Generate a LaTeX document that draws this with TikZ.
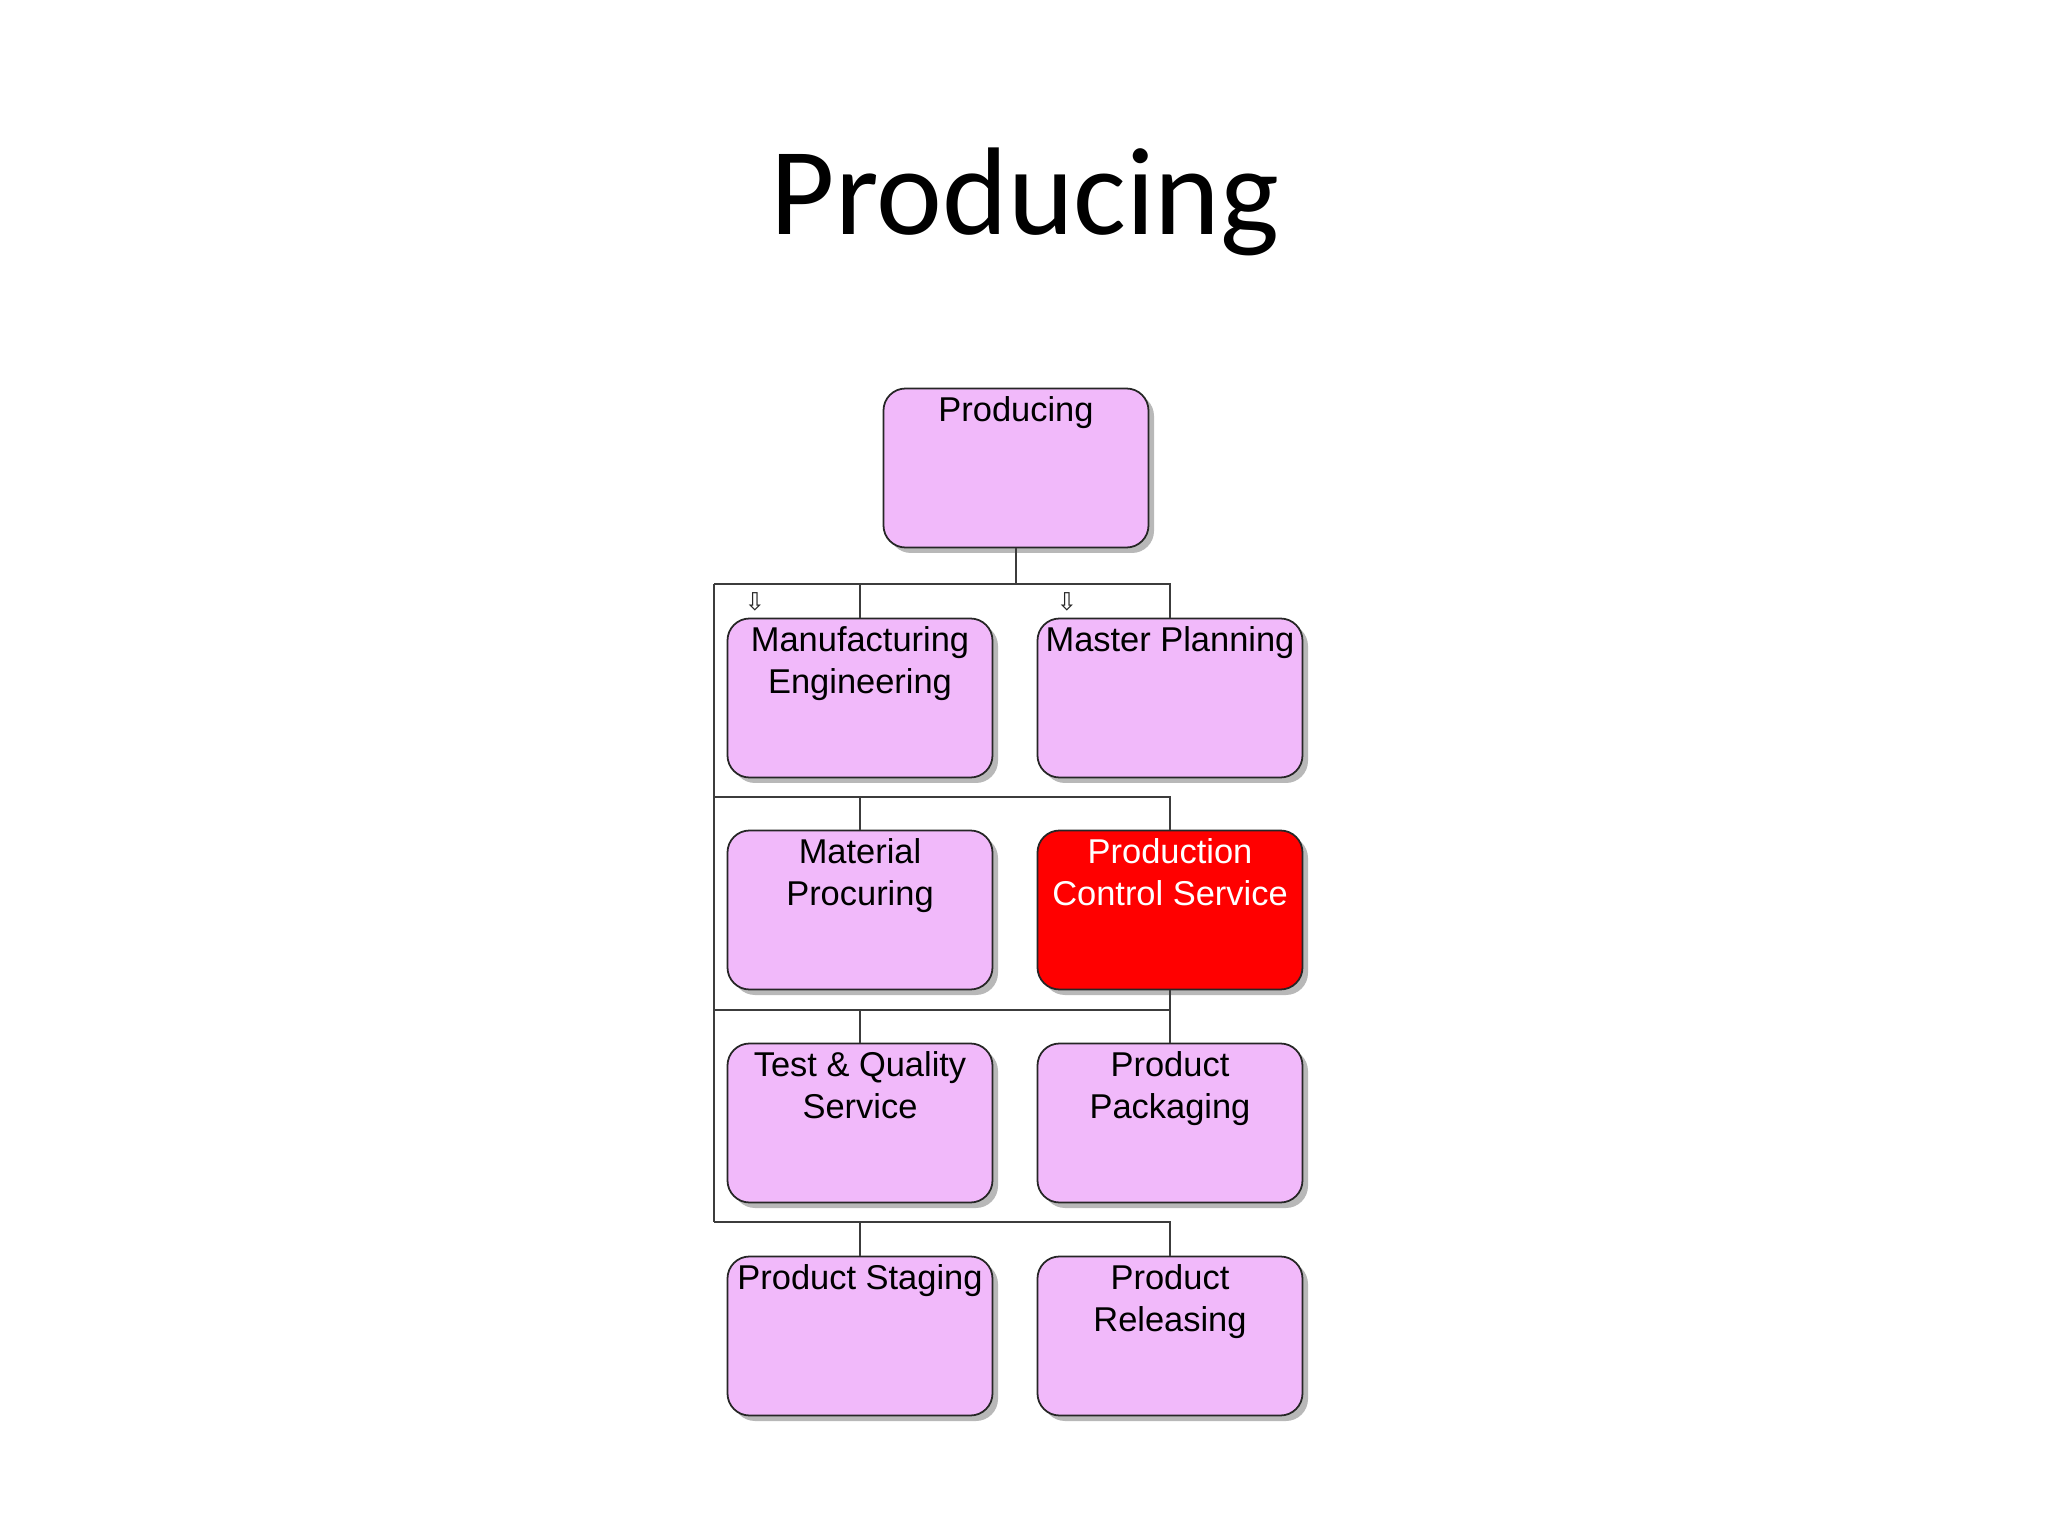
\documentclass[tikz,border=0pt]{standalone}
\usepackage{fontspec}
\setmainfont{Liberation Sans}
\newfontfamily\titlefont{Carlito}
\newfontfamily\arrowfont{DejaVu Sans}
\usepackage{tikz}
\usetikzlibrary{shadows,positioning}

\definecolor{unitpink}{RGB}{241,185,250}
\definecolor{unitred}{RGB}{255,0,0}
\definecolor{wiregray}{RGB}{60,60,60}

\newcommand{\unittext}[1]{\parbox[c][1.59cm][t]{2.64cm}{\centering\vspace*{2.4pt}#1}}

\tikzset{
  unit/.style={draw=black!85, line width=0.5pt, fill=unitpink, rounded corners=0.22cm,
    minimum width=2.65cm, minimum height=1.59cm, inner sep=0pt,
    font=\fontsize{9.8}{11.85}\selectfont,
    drop shadow={shadow xshift=0.055cm, shadow yshift=-0.055cm, fill=black!28, opacity=1}},
  hotunit/.style={unit, fill=unitred, text=white},
  wire/.style={draw=wiregray, line width=0.5pt},
  marker/.style={font=\arrowfont\fontsize{7}{7}\selectfont, inner sep=0pt, text=black!85}
}

\begin{document}
\begin{tikzpicture}

\fill[white] (0,0) rectangle (20.48,-15.36);
\useasboundingbox (0,0) rectangle (20.48,-15.36);

% title
\node[anchor=base, font=\titlefont\fontsize{35.5}{38}\selectfont] (title) at (10.25,-2.35) {Producing};

% boxes
\node[unit] (prod) at (10.16,-4.68) {\unittext{Producing}};

\node[unit] (me)  at (8.60,-6.98)  {\unittext{Manufacturing\\Engineering}};
\node[unit] (mp)  at (11.70,-6.98) {\unittext{Master Planning}};
\node[unit] (mat) at (8.60,-9.10)  {\unittext{Material\\Procuring}};
\node[hotunit] (pcs) at (11.70,-9.10) {\unittext{Production\\Control Service}};
\node[unit] (tqs) at (8.60,-11.23) {\unittext{Test \& Quality\\Service}};
\node[unit] (pkg) at (11.70,-11.23) {\unittext{Product\\Packaging}};
\node[unit] (stg) at (8.60,-13.36) {\unittext{Product Staging}};
\node[unit] (rel) at (11.70,-13.36) {\unittext{Product\\Releasing}};

% bus lines
\coordinate (sp1) at (7.14,-5.84);
\coordinate (sp2) at (7.14,-7.97);
\coordinate (sp3) at (7.14,-10.10);
\coordinate (sp4) at (7.14,-12.22);

\draw[wire] (prod.south) -- (prod.south |- sp1);
\draw[wire] (sp1) -- (sp4);

\draw[wire] (sp1) -- (sp1 -| mp.north) -- (mp.north);
\draw[wire] (me.north |- sp1) -- (me.north);
\draw[wire] (sp2) -- (sp2 -| pcs.north) -- (pcs.north);
\draw[wire] (mat.north |- sp2) -- (mat.north);
\draw[wire] (pcs.south) -- (pcs.south |- sp3);
\draw[wire] (sp3) -- (sp3 -| pkg.north) -- (pkg.north);
\draw[wire] (tqs.north |- sp3) -- (tqs.north);
\draw[wire] (sp4) -- (sp4 -| rel.north) -- (rel.north);
\draw[wire] (stg.north |- sp4) -- (stg.north);

% little markers
\node[marker] (mk-me) at (7.55,-6.02) {⇩};
\node[marker] (mk-mp) at (10.67,-6.02) {⇩};

\end{tikzpicture}
\end{document}
